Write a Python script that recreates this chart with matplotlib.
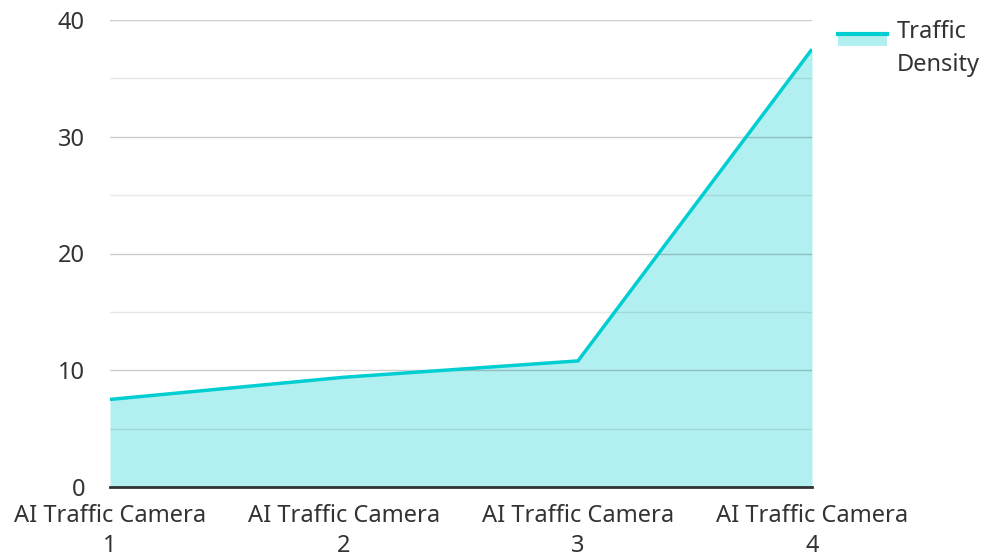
import matplotlib
matplotlib.use("Agg")
import matplotlib.pyplot as plt
from matplotlib.legend_handler import HandlerBase
from matplotlib.patches import Rectangle
from matplotlib.lines import Line2D

plt.rcParams['font.family'] = ['Noto Sans', 'DejaVu Sans']

categories = ["AI Traffic Camera\n1", "AI Traffic Camera\n2", "AI Traffic Camera\n3", "AI Traffic Camera\n4"]
density = [7.5, 9.4, 10.8, 37.5]
series_name = "Traffic\nDensity"
yticks = [0, 10, 20, 30, 40]

line_color = "#00CED1"
fill_color = "#B2EFF0"
text_color = "#333333"
fs = 17

fig = plt.figure(figsize=(9.86, 5.58), dpi=100)
ax = fig.add_axes([110/986, (558-487)/558, (812-110)/986, (487-20)/558])

x = list(range(len(categories)))
ax.fill_between(x, density, 0, color=fill_color, linewidth=0, zorder=1)
ax.plot(x, density, color=line_color, linewidth=2.5, zorder=3, solid_capstyle='butt')

ax.set_xlim(0, len(categories) - 1)
ax.set_ylim(0, 40)
ax.set_yticks(yticks)
ax.set_yticks([5, 15, 25, 35], minor=True)
ax.set_xticks(x)
ax.set_xticklabels(categories)
ax.grid(True, which='major', axis='y', color='black', alpha=0.2, linewidth=1, zorder=2)
ax.grid(True, which='minor', axis='y', color='black', alpha=0.09, linewidth=1, zorder=2)
ax.set_axisbelow(False)
for s in ['top', 'right', 'left']:
    ax.spines[s].set_visible(False)
ax.spines['bottom'].set_color('#333333')
ax.spines['bottom'].set_linewidth(2)
ax.spines['bottom'].set_zorder(4)
ax.tick_params(axis='both', which='both', length=0, labelsize=fs, labelcolor=text_color)
ax.tick_params(axis='y', pad=18)
ax.tick_params(axis='x', pad=12.5)
for lbl in ax.get_xticklabels():
    lbl.set_linespacing(1.33)


class AreaHandler(HandlerBase):
    def create_artists(self, legend, orig_handle, xdescent, ydescent, width, height, fontsize, trans):
        top = height * 1.45
        rect = Rectangle((-xdescent, -ydescent + top - height * 0.75), width, height * 0.75,
                         facecolor=fill_color, edgecolor='none', transform=trans)
        ln = Line2D([-xdescent, -xdescent + width], [-ydescent + top, -ydescent + top],
                    color=line_color, linewidth=3, transform=trans)
        return [rect, ln]


handle = Rectangle((0, 0), 1, 1)
leg = fig.legend([handle], [series_name], handler_map={Rectangle: AreaHandler()},
                 loc='upper left', bbox_to_anchor=(838/986, 1 - 20/558), frameon=False,
                 fontsize=fs, handlelength=2.08, handleheight=0.7, handletextpad=0.42,
                 borderaxespad=0, borderpad=0)
for t in leg.get_texts():
    t.set_color(text_color)
    t.set_linespacing(1.5)

fig.savefig("out.png", dpi=100)
